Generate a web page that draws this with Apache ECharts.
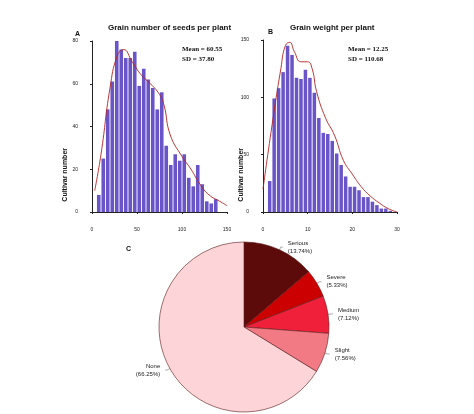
<!DOCTYPE html>
<html><head><meta charset="utf-8">
<script src="https://cdn.jsdelivr.net/npm/echarts@6/dist/echarts.min.js"></script>
<style>html,body{margin:0;background:#fff}#c{width:474px;height:414px}</style>
</head><body><div id="c"></div>
<script>
// histogram A: bins of width 5 starting at 5
var seedBinStart = 5, seedBinWidth = 5;
var seedCounts = [8,25,48,61,80,76,72,72,75,59,67,62,58,48,56,31,22,27,24,27,16,12,22,13,5,4,6];
var seedCurve = [[3,10],[10,27],[20,58],[28,73],[35,76],[45,70],[55,64],[65,60],[75,55],[80,50],[87,36],[100,26],[110,20],[120,13],[130,8],[142,5],[150,3]];
// histogram B: bins of width 1 starting at 1
var weightBinStart = 1, weightBinWidth = 1;
var weightCounts = [27,99,108,122,145,137,117,116,124,117,104,82,69,68,62,51,41,31,22,22,19,13,13,9,6,3,3,1];
var weightCurve = [[0,20],[2,75],[4,125],[5,145],[6,148],[7,140],[8.5,131],[10,131],[11,125],[12,105],[14,82],[16,67],[18,45],[20,33],[22,22],[24,14],[26,8],[28,3],[30,0]];
// pie C
var pieNames = ['Serious','Severe','Medium','Slight','None'];
var pieValues = [13.74,5.33,7.12,7.56,66.25];
var pieColors = ['#5c0a0a','#cc0000','#f0203a','#f27a85','#fdd5d8'];

function bins(start, w, counts){ return counts.map(function(v,i){ return [start + w*i + w/2, v]; }); }

var axisTxt = {fontSize:5, color:'#222'};
var chart = echarts.init(document.getElementById('c'));
chart.setOption({
  animation:false,
  graphic:[
    {type:'text',left:108,top:24,style:{text:'Grain number of seeds per plant',font:'bold 8px Liberation Sans',fill:'#111'}},
    {type:'text',left:290,top:24,style:{text:'Grain weight per plant',font:'bold 8px Liberation Sans',fill:'#111'}},
    {type:'text',left:75,top:31,style:{text:'A',font:'bold 7px Liberation Sans',fill:'#111'}},
    {type:'text',left:268,top:29,style:{text:'B',font:'bold 7px Liberation Sans',fill:'#111'}},
    {type:'text',left:126,top:246,style:{text:'C',font:'bold 7px Liberation Sans',fill:'#111'}},
    {type:'text',left:182,top:44,style:{text:'Mean = 60.55\nSD = 37.80',font:'bold 7px Liberation Serif',fill:'#111',lineHeight:10}},
    {type:'text',left:348,top:44,style:{text:'Mean = 12.25\nSD = 110.68',font:'bold 7px Liberation Serif',fill:'#111',lineHeight:10}},
    {type:'text',left:62,top:148,rotation:Math.PI/2,style:{text:'Cultivar number',font:'bold 7px Liberation Sans',fill:'#111'}},
    {type:'text',left:238,top:148,rotation:Math.PI/2,style:{text:'Cultivar number',font:'bold 7px Liberation Sans',fill:'#111'}}
  ],
  grid:[
    {left:92,top:41,width:135,height:171},
    {left:263,top:40,width:134,height:172}
  ],
  xAxis:[
    {gridIndex:0,type:'value',min:0,max:150,interval:50,offset:7,splitLine:{show:false},axisLine:{lineStyle:{color:'#222'}},axisTick:{length:2},axisLabel:axisTxt},
    {gridIndex:1,type:'value',min:0,max:30,interval:10,offset:7,splitLine:{show:false},axisLine:{lineStyle:{color:'#222'}},axisTick:{length:2},axisLabel:axisTxt}
  ],
  yAxis:[
    {gridIndex:0,type:'value',min:0,max:80,interval:20,offset:6,splitLine:{show:false},axisLine:{show:true,lineStyle:{color:'#222'}},axisTick:{show:true,length:2},axisLabel:axisTxt},
    {gridIndex:1,type:'value',min:0,max:150,interval:50,offset:6,splitLine:{show:false},axisLine:{show:true,lineStyle:{color:'#222'}},axisTick:{show:true,length:2},axisLabel:axisTxt}
  ],
  series:[
    {type:'bar',xAxisIndex:0,yAxisIndex:0,data:bins(seedBinStart,seedBinWidth,seedCounts),barWidth:3.6,itemStyle:{color:'#6a55c8'}},
    {type:'line',xAxisIndex:0,yAxisIndex:0,data:seedCurve,smooth:0.5,symbol:'none',lineStyle:{color:'#b22222',width:0.9}},
    {type:'bar',xAxisIndex:1,yAxisIndex:1,data:bins(weightBinStart,weightBinWidth,weightCounts),barWidth:3.5,itemStyle:{color:'#6a55c8'}},
    {type:'line',xAxisIndex:1,yAxisIndex:1,data:weightCurve,smooth:0.5,symbol:'none',lineStyle:{color:'#b22222',width:0.9}},
    {type:'pie',center:[244,327],radius:85,startAngle:90,clockwise:true,
     data:pieNames.map(function(n,i){return {name:n,value:pieValues[i],itemStyle:{color:pieColors[i]}};}),
     itemStyle:{borderColor:'#5a1a1a',borderWidth:0.6},
     label:{formatter:function(p){return p.name+'\n('+p.value.toFixed(2)+'%)';},fontSize:6,color:'#222',lineHeight:8},
     labelLine:{length:3,length2:2,lineStyle:{color:'#555',width:0.5}}}
  ]
});
</script></body></html>
